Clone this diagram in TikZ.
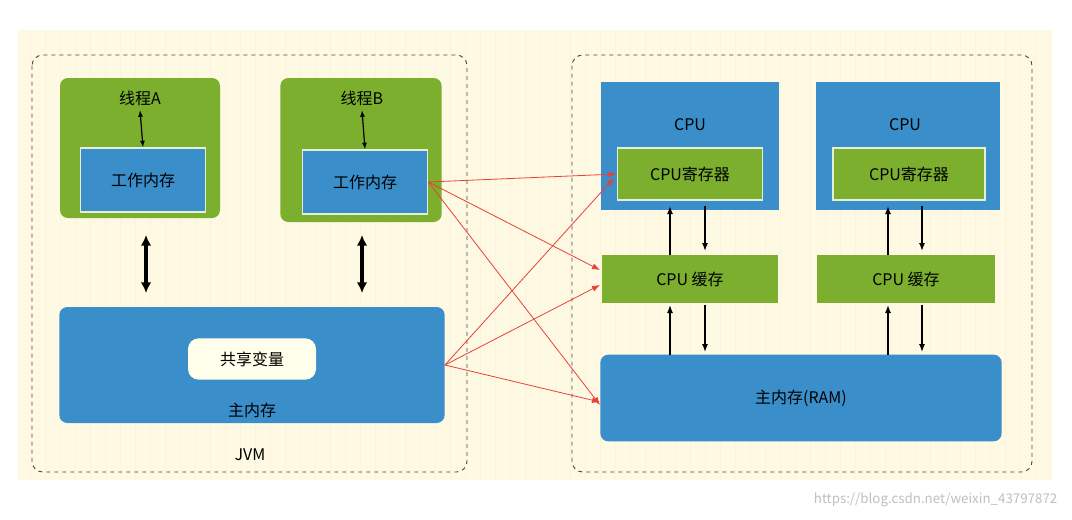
\documentclass[tikz,border=0pt]{standalone}
\usepackage{fontspec}
\setmainfont{Noto Sans CJK SC}
\usetikzlibrary{arrows.meta}
\definecolor{bg}{HTML}{FDF9E3}
\definecolor{grn}{HTML}{7BAF2D}
\definecolor{blu}{HTML}{3A8FCB}
\definecolor{redc}{HTML}{E8413A}
\begin{document}
\begin{tikzpicture}[x=0.75pt,y=-0.75pt,
 dbox/.style={draw=black!70,dashed,rounded corners=8pt,line width=0.7pt},
 gbox/.style={fill=grn,rounded corners=6pt},
 bbox/.style={fill=blu,draw=white!80!grn,line width=1pt},
 cbox/.style={fill=grn},
 lbl/.style={font=\fontsize{12}{14}\selectfont},
 thin2/.style={{Latex[length=5pt]}-{Latex[length=5pt]},line width=0.9pt},
 thick2/.style={{Latex[length=8pt,width=8pt]}-{Latex[length=8pt,width=8pt]},line width=2.5pt},
 one/.style={-{Latex[length=6pt]},line width=1pt},
 red/.style={-{Latex[length=6pt]},draw=redc,line width=0.6pt}]
\useasboundingbox (0,0) rectangle (1072,519);
\fill[white] (0,0) rectangle (1072,519);
\fill[bg] (18,30) rectangle (1052,480);
\draw[orange!12,line width=0.4pt,step=15] (18,30) grid (1052,480);
\draw[dbox] (32,55) rectangle (467,472);
\draw[dbox] (572,55) rectangle (1032,472);
% thread A
\node[gbox,minimum width=120pt,minimum height=105pt] (ta) at (140,148) {};
\node[lbl] (tal) at (140,98) {线程A};
\node[bbox,minimum width=94pt,minimum height=48pt,lbl] (wa) at (143,180) {工作内存};
\draw[thin2] (tal.south) -- (wa.north);
% thread B
\node[gbox,minimum width=121pt,minimum height=108pt] (tb) at (361,150) {};
\node[lbl] (tbl) at (362,98) {线程B};
\node[bbox,minimum width=94pt,minimum height=48pt,lbl] (wb) at (365,182) {工作内存};
\draw[thin2] (tbl.south) -- (wb.north);
% main memory
\node[fill=blu,rounded corners=6pt,minimum width=289pt,minimum height=87pt] (mm) at (252,365) {};
\node[fill=white!92!yellow,rounded corners=8pt,minimum width=96pt,minimum height=31pt,lbl] (sv) at (252,359) {共享变量};
\node[lbl] (mml) at (252,410) {主内存};
\node[lbl] (jvm) at (250,455) {JVM};
\coordinate (a1) at (146,235); \coordinate (a2) at (146,293);
\coordinate (b1) at (362,235); \coordinate (b2) at (362,293);
\draw[thick2] (a1) -- (a2);
\draw[thick2] (b1) -- (b2);
% CPUs
\node[fill=blu,minimum width=133pt,minimum height=96pt] (c1) at (690,146) {};
\node[lbl] at (690,125) {CPU};
\node[cbox,draw=white!80!grn,line width=1pt,minimum width=109pt,minimum height=39pt,lbl] (r1) at (690,174) {CPU寄存器};
\node[fill=blu,minimum width=138pt,minimum height=96pt] (c2) at (908,146) {};
\node[lbl] at (905,125) {CPU};
\node[cbox,draw=white!80!grn,line width=1pt,minimum width=114pt,minimum height=39pt,lbl] (r2) at (909,174) {CPU寄存器};
\node[cbox,minimum width=132pt,minimum height=36pt,lbl] (k1) at (690,279) {CPU 缓存};
\node[cbox,minimum width=134pt,minimum height=36pt,lbl] (k2) at (906,279) {CPU 缓存};
\node[fill=blu,rounded corners=6pt,minimum width=301pt,minimum height=65pt,lbl] (ram) at (801,398) {主内存(RAM)};
\foreach \x/\y in {670/888}{}
\draw[one] (670,255) -- (670,206);
\draw[one] (705,206) -- (705,251);
\draw[one] (888,255) -- (888,206);
\draw[one] (922,206) -- (922,251);
\draw[one] (670,355) -- (670,305);
\draw[one] (705,305) -- (705,352);
\draw[one] (888,355) -- (888,305);
\draw[one] (922,305) -- (922,352);
% red
\draw[red] (wb.east) -- (r1.west);
\draw[red] (wb.east) -- (600,270);
\draw[red] (wb.east) -- (600,405);
\draw[red] (mm.east) -- (614,178);
\draw[red] (mm.east) -- (600,285);
\draw[red] (mm.east) -- (600,402);
\node[text=black!25,font=\fontsize{10}{12}\selectfont,anchor=east] (wm) at (1062,500) {https://blog.csdn.net/weixin\_43797872};
\end{tikzpicture}
\end{document}
